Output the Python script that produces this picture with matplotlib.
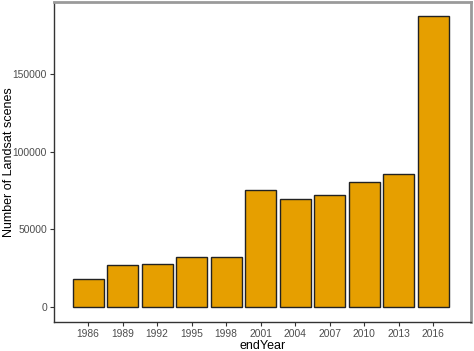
import matplotlib.pyplot as plt

plt.rcParams['font.family'] = ['Liberation Sans', 'DejaVu Sans']

# datos
anios = ['1986', '1989', '1992', '1995', '1998', '2001', '2004', '2007', '2010', '2013', '2016']
escenas = [18400, 27200, 27800, 32500, 32000, 75400, 69200, 72300, 80500, 85600, 187000]

fig = plt.figure(figsize=(4.74, 3.51), dpi=100)
ax = fig.add_axes([0.114, 0.0835, 0.8797, 0.912])

pos = list(range(1, len(anios) + 1))
ax.bar(pos, escenas, width=0.9, color='#E69F00', edgecolor='#222222', linewidth=1.0)

ax.set_xlim(0.015, 12.09)
ax.set_ylim(-9350, 196350)
ax.set_xticks(pos)
ax.set_xticklabels(anios)
ax.set_yticks([0, 50000, 100000, 150000])
ax.set_yticklabels(['0', '50000', '100000', '150000'])

ax.tick_params(axis='both', labelsize=7.4, colors='#333333', labelcolor='#4d4d4d',
               length=3, width=0.8, pad=2)

ax.set_xlabel('endYear', fontsize=9, labelpad=1)
ax.set_ylabel('Number of Landsat scenes', fontsize=9)
ax.yaxis.label.set_va('center')
ax.yaxis.set_label_coords(-0.108, 0.5)

# ejes izquierda/abajo oscuros, borde gris arriba/derecha
for lado in ['left', 'bottom']:
    ax.spines[lado].set_color('#333333')
    ax.spines[lado].set_linewidth(1.0)
for lado in ['top', 'right']:
    ax.spines[lado].set_color('#9a9a9a')
    ax.spines[lado].set_linewidth(2.0)

fig.savefig('out.png', dpi=100)
